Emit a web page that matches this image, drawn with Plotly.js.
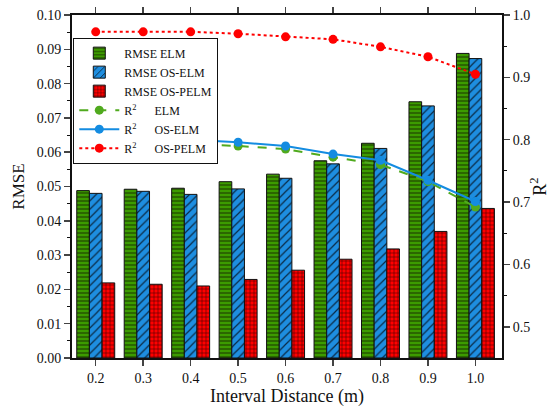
<!DOCTYPE html>
<html>
<head>
<meta charset="utf-8">
<script src="https://cdn.plot.ly/plotly-3.0.1.min.js"></script>
<style>html,body{margin:0;padding:0;background:#fff;}#chart{width:550px;height:407px;}</style>
</head>
<body>
<div id="chart"></div>
<script>
const distances = [0.2, 0.3, 0.4, 0.5, 0.6, 0.7, 0.8, 0.9, 1.0];
const rmseELM    = [0.0488, 0.0492, 0.0495, 0.0514, 0.0536, 0.0575, 0.0626, 0.0747, 0.0888];
const rmseOSELM  = [0.0480, 0.0486, 0.0477, 0.0493, 0.0524, 0.0566, 0.0611, 0.0735, 0.0873];
const rmseOSPELM = [0.0219, 0.0215, 0.0210, 0.0229, 0.0256, 0.0288, 0.0318, 0.0369, 0.0436];
const r2ELM      = [0.793, 0.793, 0.793, 0.790, 0.785, 0.772, 0.760, 0.733, 0.692];
const r2OSELM    = [0.800, 0.800, 0.800, 0.796, 0.790, 0.777, 0.767, 0.735, 0.701];
const r2OSPELM   = [0.973, 0.973, 0.973, 0.970, 0.965, 0.961, 0.949, 0.933, 0.905];

const green = 'rgb(60,155,0)';
const blue = 'rgb(30,142,224)';
const red = 'rgb(255,0,0)';
const font = 'Liberation Serif';
const sp = '\u00a0\u00a0\u00a0\u00a0\u00a0\u00a0';

const traces = [
  {type:'bar', x:distances, y:rmseELM, name:'RMSE ELM',
   marker:{color:green, line:{color:'#111', width:1}, pattern:{shape:'-', fgcolor:'#1a3300', bgcolor:green, size:4, solidity:0.25}}},
  {type:'bar', x:distances, y:rmseOSELM, name:'RMSE OS-ELM',
   marker:{color:blue, line:{color:'#111', width:1}, pattern:{shape:'/', fgcolor:'#0a2a45', bgcolor:blue, size:6, solidity:0.2}}},
  {type:'bar', x:distances, y:rmseOSPELM, name:'RMSE OS-PELM',
   marker:{color:red, line:{color:'#111', width:1}, pattern:{shape:'+', fgcolor:'#400000', bgcolor:red, size:4, solidity:0.25}}},
  {type:'scatter', mode:'lines+markers', x:distances, y:r2ELM, yaxis:'y2', name:'R<sup>2</sup>'+sp+'ELM',
   line:{color:'rgb(80,170,30)', width:2, dash:'dash'}, marker:{color:'rgb(80,170,30)', size:9}},
  {type:'scatter', mode:'lines+markers', x:distances, y:r2OSELM, yaxis:'y2', name:'R<sup>2</sup>'+sp+'OS-ELM',
   line:{color:'rgb(20,140,225)', width:2}, marker:{color:'rgb(20,140,225)', size:9}},
  {type:'scatter', mode:'lines+markers', x:distances, y:r2OSPELM, yaxis:'y2', name:'R<sup>2</sup>'+sp+'OS-PELM',
   line:{color:red, width:2, dash:'dot'}, marker:{color:red, size:9}}
];

const layout = {
  width:550, height:407,
  margin:{l:72, r:48, t:15, b:49},
  paper_bgcolor:'#fff', plot_bgcolor:'#fff',
  font:{family:font, size:14, color:'#111'},
  barmode:'group', bargap:0.2, bargroupgap:0,
  showlegend:true,
  legend:{x:0.003, y:0.934, xanchor:'left', yanchor:'top', bgcolor:'#fff', bordercolor:'#111', borderwidth:1,
          font:{family:font, size:12, color:'#111'}, tracegroupgap:0, itemwidth:40},
  xaxis:{range:[0.15, 1.056], tickvals:distances, tickformat:'.1f', ticks:'outside', ticklen:6, tickwidth:1.5,
         showline:true, linecolor:'#111', linewidth:2, mirror:'ticks', showgrid:false, zeroline:false,
         tickfont:{family:font, size:14},
         title:{text:'Interval Distance (m)', font:{family:font, size:18}, standoff:2}},
  yaxis:{range:[0, 0.1], dtick:0.01, tickformat:'.2f', ticks:'outside', ticklen:6, tickwidth:1.5,
         minor:{dtick:0.005, ticks:'outside', ticklen:3, tickwidth:1, tickcolor:'#111'},
         showline:true, linecolor:'#111', linewidth:2, showgrid:false, zeroline:false,
         tickfont:{family:font, size:14},
         title:{text:'RMSE', font:{family:font, size:17}, standoff:8}},
  yaxis2:{overlaying:'y', side:'right', range:[0.45, 1.0], tickvals:[0.5,0.6,0.7,0.8,0.9,1.0], tickformat:'.1f',
          ticks:'outside', ticklen:6, tickwidth:1.5,
          minor:{tickvals:[0.55,0.65,0.75,0.85,0.95], ticks:'outside', ticklen:3, tickwidth:1, tickcolor:'#111'},
          showline:true, linecolor:'#111', linewidth:2, showgrid:false, zeroline:false,
          tickfont:{family:font, size:14},
          title:{text:'R<sup>2</sup>', font:{family:font, size:18}, standoff:4}}
};

Plotly.newPlot('chart', traces, layout, {displayModeBar:false, staticPlot:true});
</script>
</body>
</html>
